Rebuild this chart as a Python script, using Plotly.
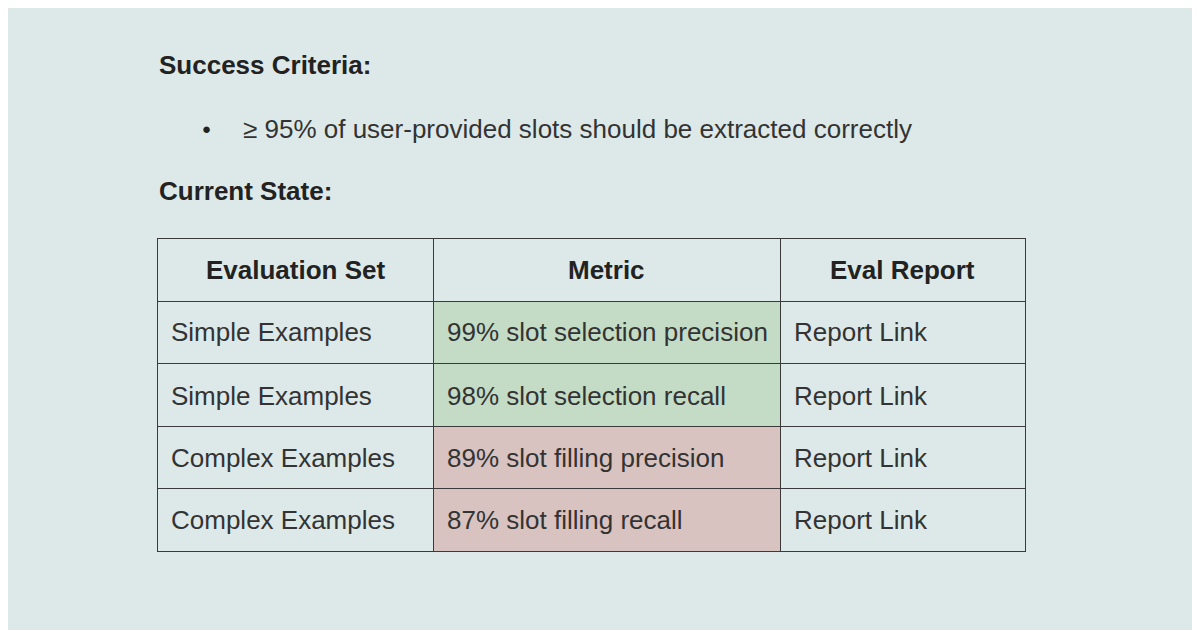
import plotly.graph_objects as go

headers = ["Evaluation Set", "Metric", "Eval Report"]
eval_sets = ["Simple Examples", "Simple Examples", "Complex Examples", "Complex Examples"]
metrics = ["99% slot selection precision", "98% slot selection recall",
           "89% slot filling precision", "87% slot filling recall"]
reports = ["Report Link"] * 4
metric_colors = ["#c4dcc6", "#c4dcc6", "#d8c3c1", "#d8c3c1"]

BG = "#dde9e8"
W, H = 1200, 630
OFF = 8  # page body margin
FS = 26

def px(x):
    return (x - OFF) / W

def py(y):
    return 1 - (y - OFF) / H

col_edges = [157, 433, 780, 1024]
row_edges = [238, 301, 364, 427, 489, 551]

fig = go.Figure(go.Table(
    domain=dict(x=[px(157), px(1025)], y=[py(552), py(238)]),
    columnwidth=[276, 347, 244],
    header=dict(values=["", "", ""], height=63,
                fill_color=BG, line=dict(color="#3a3a3a", width=1)),
    cells=dict(values=[[""] * 4] * 3, height=62.5,
               fill_color=[[BG] * 4, metric_colors, [BG] * 4],
               line=dict(color="#3a3a3a", width=1)),
))

font_b = dict(family="Liberation Sans, Arial", size=FS, color="#222")
font_n = dict(family="Liberation Sans, Arial", size=FS, color="#333")

def ann(x, y, text, font, anchor="left"):
    fig.add_annotation(x=px(x), y=py(y), xref="paper", yref="paper", xanchor=anchor,
                       yanchor="middle", text=text, showarrow=False, font=font)

# header
for i, h in enumerate(headers):
    cx = (col_edges[i] + col_edges[i + 1]) / 2
    ann(cx, (row_edges[0] + row_edges[1]) / 2, "<b>" + h + "</b>", font_b, "center")
# body
cols = [eval_sets, metrics, reports]
for r in range(4):
    cy = (row_edges[r + 1] + row_edges[r + 2]) / 2
    for c in range(3):
        ann(col_edges[c] + 12, cy, cols[c][r], font_n)

ann(157, 65, "<b>Success Criteria:</b>", font_b)
ann(200, 129, "●", dict(family="Liberation Sans", size=15, color="#222"))
ann(241, 129, "≥ 95% of user-provided slots should be extracted correctly", font_n)
ann(157, 191, "<b>Current State:</b>", font_b)

fig.update_layout(width=W, height=H, margin=dict(l=0, r=0, t=0, b=0),
                  paper_bgcolor=BG, plot_bgcolor=BG)
fig.write_html("out.html")
